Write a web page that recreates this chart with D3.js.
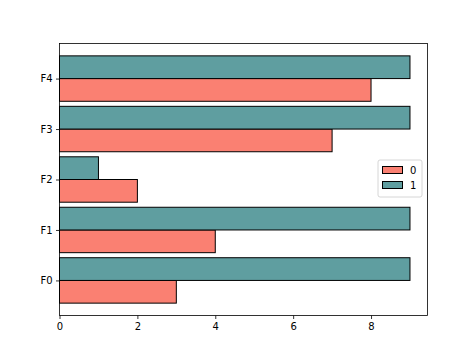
<!DOCTYPE html>
<html><head><meta charset="utf-8">
<script src="https://cdn.jsdelivr.net/npm/d3@7"></script>
<style>body{margin:0;background:#fff}svg{display:block;font-family:"DejaVu Sans",sans-serif}</style>
</head><body>
<script>
const categories = ["F0","F1","F2","F3","F4"];
const series0 = [3,4,2,7,8];
const series1 = [9,9,1,9,9];
const seriesNames = ["0","1"];
const colors = ["#fa8072","#5f9ea0"];
const xTicks = [0,2,4,6,8];

const W=474,H=355, L=59.5, R=427.5, T=43.5, B=315.5;
const svg=d3.select("body").append("svg").attr("width",W).attr("height",H);
const bh=0.45;
const x=d3.scaleLinear().domain([0,9.45]).range([L,R]);
const y=d3.scaleLinear().domain([-0.695,4.695]).range([B,T]);

const data=[series0,series1];
data.forEach((vals,s)=>{
  svg.append("g").selectAll("rect").data(vals).join("rect")
    .attr("x",x(0))
    .attr("y",(d,i)=> s===1 ? y(i+bh) : y(i))
    .attr("width",d=>x(d)-x(0))
    .attr("height",y(0)-y(bh))
    .attr("fill",colors[s]).attr("stroke","#000").attr("stroke-width",1);
});

const xAxis=d3.axisBottom(x).tickValues(xTicks).tickSize(3.5).tickPadding(3.5).tickFormat(d3.format("d"));
const gx=svg.append("g").attr("transform",`translate(0,${B})`).call(xAxis);
const yAxis=d3.axisLeft(y).tickValues(d3.range(5)).tickSize(3.5).tickPadding(3.5).tickFormat(i=>categories[i]);
const gy=svg.append("g").attr("transform",`translate(${L},0)`).call(yAxis);
[gx,gy].forEach(g=>{g.select(".domain").remove();g.selectAll("text").attr("font-size",10).attr("fill","#000").attr("font-family","DejaVu Sans");g.selectAll("line").attr("stroke","#000").attr("stroke-width",0.8);});

svg.append("rect").attr("x",L).attr("y",T).attr("width",R-L).attr("height",B-T)
  .attr("fill","none").attr("stroke","#000").attr("stroke-width",0.8);

// legend
const lg=svg.append("g");
lg.append("rect").attr("x",378).attr("y",160).attr("width",44).attr("height",37).attr("rx",2)
  .attr("fill","#fff").attr("fill-opacity",0.8).attr("stroke","#ccc").attr("stroke-width",0.8);
seriesNames.forEach((n,i)=>{
  lg.append("rect").attr("x",382.5).attr("y",166.5+i*15).attr("width",20).attr("height",7)
    .attr("fill",colors[i]).attr("stroke","#000").attr("stroke-width",1);
  lg.append("text").attr("x",410).attr("y",174+i*15).attr("font-size",10).attr("fill","#000").text(n);
});
</script>
</body></html>
